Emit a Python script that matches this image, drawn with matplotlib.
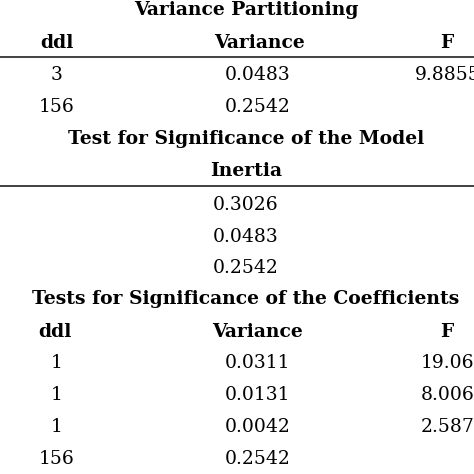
import matplotlib.pyplot as plt

title1 = 'Variance Partitioning'
title2 = ['Test for Significance of the Model', 'Inertia']
title3 = 'Tests for Significance of the Coefficients'
headers = ['ddl', 'Variance', 'F']
part_ddl = ['3', '156']
part_var = ['0.0483', '0.2542']
part_f = ['9.8855', '']
inertia = ['0.3026', '0.0483', '0.2542']
coef_ddl = ['1', '1', '1', '156']
coef_var = ['0.0311', '0.0131', '0.0042', '0.2542']
coef_f = ['19.06', '8.006', '2.587', '']

fig = plt.figure(figsize=(4.74, 4.74), dpi=100)
ax = fig.add_axes([0, 0, 1, 1])
ax.set_xlim(0, 474)
ax.set_ylim(474, 0)
ax.axis('off')

font = dict(family='DejaVu Serif', fontsize=13.5, ha='center', va='center')
bold = dict(font, fontweight='bold')

def row(y, vals, fx):
    ax.text(57, y, vals[0], **font)
    ax.text(258, y, vals[1], **font)
    ax.text(fx, y, vals[2], **dict(font, ha='left'))

ax.text(246, 10, title1, **bold)
ax.text(57, 43, headers[0], **bold)
ax.text(260, 43, headers[1], **bold)
ax.text(447, 43, headers[2], **bold)
ax.axhline(57, color='#333333', lw=1.3)
y = 75
for r in zip(part_ddl, part_var, part_f):
    row(y, r, 415)
    y += 32
ax.text(246, 139, title2[0], **bold)
ax.text(246, 171, title2[1], **bold)
ax.axhline(186, color='#333333', lw=1.3)
y = 205
for v in inertia:
    ax.text(246, y, v, **font)
    y += 31.5
ax.text(246, 299, title3, **bold)
ax.text(55, 332, headers[0], **bold)
ax.text(258, 332, headers[1], **bold)
ax.text(447, 332, headers[2], **bold)
y = 363
for r in zip(coef_ddl, coef_var, coef_f):
    row(y, r, 421)
    y += 32

fig.savefig('out.png', dpi=100)
